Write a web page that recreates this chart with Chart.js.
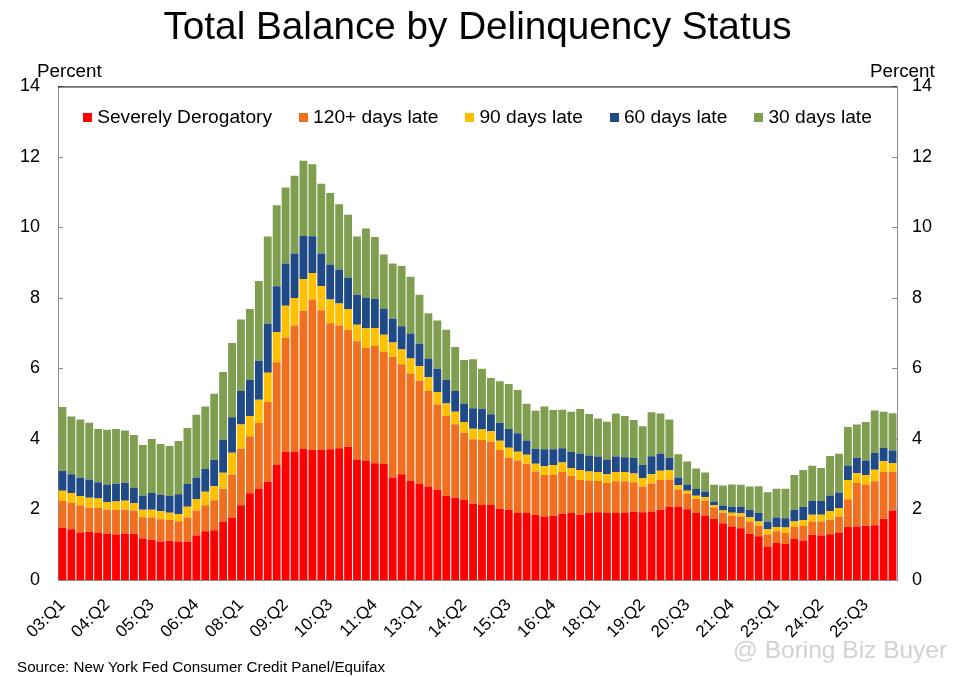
<!DOCTYPE html>
<html>
<head>
<meta charset="utf-8">
<title>Total Balance by Delinquency Status</title>
<script src="https://cdn.jsdelivr.net/npm/chart.js@4/dist/chart.umd.min.js"></script>
<style>
  html, body { margin: 0; padding: 0; background: #fff; }
  #wrap { position: relative; width: 955px; height: 677px; font-family: "Liberation Sans", Arial, sans-serif; color: #000; }
  #chart { position: absolute; left: 0; top: 0; }
  .pct { position: absolute; top: 60px; font-size: 18.8px; line-height: 21px; }
  #legend { position: absolute; left: 58px; width: 839px; top: 106px; display: flex; justify-content: center; gap: 27px; font-size: 19.2px; line-height: 22px; }
  #legend .item { display: flex; align-items: center; gap: 5px; white-space: nowrap; }
  #legend .sw { width: 9px; height: 9px; display: inline-block; }
  #source { position: absolute; left: 17px; top: 658px; font-size: 15.2px; line-height: 17px; }
  #mark { position: absolute; left: 733px; top: 636px; font-size: 24.5px; line-height: 28px; color: #d2d2d2; }
</style>
</head>
<body>
<div id="wrap">
  <canvas id="chart" width="955" height="677"></canvas>
  <div class="pct" style="left:37px">Percent</div>
  <div class="pct" style="left:870px">Percent</div>
  <div id="legend"></div>
  <div id="source">Source: New York Fed Consumer Credit Panel/Equifax</div>
  <div id="mark">@ Boring Biz Buyer</div>
</div>
<script>
// quarters, 03:Q1 onward
const quarters = [
  '03:Q1','03:Q2','03:Q3','03:Q4','04:Q1','04:Q2','04:Q3','04:Q4','05:Q1','05:Q2','05:Q3','05:Q4',
  '06:Q1','06:Q2','06:Q3','06:Q4','07:Q1','07:Q2','07:Q3','07:Q4','08:Q1','08:Q2','08:Q3','08:Q4',
  '09:Q1','09:Q2','09:Q3','09:Q4','10:Q1','10:Q2','10:Q3','10:Q4','11:Q1','11:Q2','11:Q3','11:Q4',
  '12:Q1','12:Q2','12:Q3','12:Q4','13:Q1','13:Q2','13:Q3','13:Q4','14:Q1','14:Q2','14:Q3','14:Q4',
  '15:Q1','15:Q2','15:Q3','15:Q4','16:Q1','16:Q2','16:Q3','16:Q4','17:Q1','17:Q2','17:Q3','17:Q4',
  '18:Q1','18:Q2','18:Q3','18:Q4','19:Q1','19:Q2','19:Q3','19:Q4','20:Q1','20:Q2','20:Q3','20:Q4',
  '21:Q1','21:Q2','21:Q3','21:Q4','22:Q1','22:Q2','22:Q3','22:Q4','23:Q1','23:Q2','23:Q3','23:Q4',
  '24:Q1','24:Q2','24:Q3','24:Q4','25:Q1','25:Q2','25:Q3','25:Q4','26:Q1','26:Q2'
];

// percent of balance, by status
const severe = [
  1.49,1.44,1.35,1.37,1.35,1.32,1.29,1.32,1.31,1.18, 1.14,1.09,1.11,1.09,1.09,1.26,1.38,1.41,1.66,1.77,
  2.12,2.46,2.58,2.79,3.26,3.64,3.64,3.72,3.69,3.69, 3.71,3.74,3.78,3.42,3.39,3.31,3.29,2.91,3.00,2.81,
  2.74,2.65,2.56,2.39,2.33,2.27,2.16,2.13,2.13,2.02, 1.99,1.90,1.90,1.85,1.80,1.82,1.88,1.90,1.85,1.90,
  1.92,1.90,1.90,1.90,1.94,1.92,1.94,1.99,2.08,2.08, 2.01,1.90,1.83,1.73,1.61,1.52,1.47,1.31,1.24,0.95,
  1.05,1.02,1.16,1.12,1.28,1.26,1.30,1.35,1.50,1.52, 1.54,1.55,1.74,1.97
];
const late120 = [
  0.76,0.75,0.77,0.69,0.71,0.67,0.70,0.67,0.66,0.60, 0.63,0.63,0.59,0.58,0.68,0.71,0.74,0.85,0.93,1.22,
  1.60,1.62,1.87,2.26,2.92,3.23,3.58,3.92,4.27,3.96, 3.57,3.48,3.32,3.35,3.20,3.33,3.18,3.42,3.12,3.05,
  2.91,2.72,2.42,2.26,2.09,1.91,1.83,1.84,1.79,1.67, 1.48,1.49,1.40,1.23,1.18,1.16,1.18,1.06,0.99,0.92,
  0.89,0.85,0.90,0.90,0.83,0.73,0.80,0.85,0.77,0.49, 0.43,0.40,0.42,0.33,0.30,0.30,0.33,0.35,0.30,0.33,
  0.33,0.31,0.34,0.42,0.38,0.40,0.41,0.45,0.79,1.23, 1.16,1.25,1.32,1.10
];
const late90 = [
  0.28,0.28,0.26,0.27,0.25,0.22,0.24,0.26,0.21,0.21, 0.22,0.23,0.21,0.20,0.31,0.33,0.38,0.40,0.45,0.62,
  0.69,0.57,0.66,0.83,0.85,0.91,0.78,0.90,0.75,0.69, 0.68,0.62,0.58,0.47,0.55,0.51,0.49,0.41,0.42,0.42,
  0.41,0.38,0.35,0.36,0.35,0.30,0.30,0.30,0.30,0.26, 0.28,0.25,0.25,0.22,0.25,0.28,0.27,0.22,0.28,0.26,
  0.25,0.25,0.26,0.26,0.25,0.24,0.26,0.26,0.26,0.12, 0.09,0.09,0.10,0.06,0.06,0.09,0.09,0.12,0.12,0.16,
  0.12,0.16,0.16,0.16,0.19,0.19,0.25,0.24,0.55,0.28, 0.28,0.33,0.31,0.24
];
const late60 = [
  0.57,0.53,0.52,0.52,0.46,0.50,0.50,0.51,0.43,0.41, 0.48,0.47,0.47,0.56,0.64,0.61,0.65,0.75,0.94,1.01,
  0.95,1.02,1.11,1.39,1.30,1.20,1.26,1.22,1.04,0.92, 0.99,0.97,0.90,0.85,0.87,0.83,0.74,0.67,0.66,0.71,
  0.64,0.53,0.66,0.66,0.59,0.53,0.58,0.59,0.48,0.51, 0.53,0.52,0.41,0.42,0.48,0.45,0.41,0.45,0.47,0.45,
  0.44,0.42,0.44,0.42,0.44,0.38,0.51,0.49,0.36,0.22, 0.18,0.19,0.16,0.11,0.14,0.17,0.19,0.21,0.24,0.22,
  0.27,0.26,0.33,0.38,0.40,0.40,0.44,0.44,0.41,0.44, 0.41,0.47,0.38,0.36
];
const late30 = [
  1.81,1.64,1.65,1.61,1.51,1.55,1.55,1.48,1.50,1.43, 1.53,1.44,1.42,1.51,1.59,1.78,1.77,1.87,1.92,2.10,
  2.03,2.02,2.26,2.47,2.30,2.15,2.21,2.13,2.04,1.98, 2.03,1.85,1.78,1.65,1.96,1.75,1.53,1.57,1.71,1.61,
  1.39,1.29,1.37,1.43,1.25,1.23,1.39,1.13,1.03,1.18, 1.28,1.23,1.04,1.08,1.21,1.11,1.09,1.14,1.26,1.18,
  1.08,1.07,1.22,1.17,1.08,1.09,1.25,1.13,1.08,0.66, 0.65,0.58,0.54,0.47,0.57,0.63,0.62,0.66,0.76,0.83,
  0.82,0.84,0.99,1.04,0.99,0.93,1.12,1.10,1.09,0.94, 1.09,1.21,1.02,1.06
];

const seriesNames = ['Severely Derogatory', '120+ days late', '90 days late', '60 days late', '30 days late'];
const seriesColors = ['#ff0000', '#f07020', '#ffc000', '#1f4a86', '#7f9e50'];
const yTicks = [0, 2, 4, 6, 8, 10, 12, 14];

Chart.defaults.font.family = '"Liberation Sans", Arial, sans-serif';
Chart.defaults.color = '#000';

const AXIS_GREY = '#8c8c8c';

// inner tick marks + black top edge of the plot box
const boxTicks = {
  id: 'boxTicks',
  afterDraw(chart) {
    const { ctx, chartArea: a } = chart;
    const y = chart.scales.y;
    ctx.save();
    ctx.strokeStyle = AXIS_GREY;
    ctx.lineWidth = 1;
    yTicks.forEach((v) => {
      const py = Math.round(y.getPixelForValue(v)) + 0.5;
      ctx.beginPath();
      ctx.moveTo(a.left, py); ctx.lineTo(a.left + 5, py);
      ctx.moveTo(a.right - 5, py); ctx.lineTo(a.right, py);
      ctx.stroke();
    });
    ctx.strokeStyle = '#000';
    ctx.beginPath();
    ctx.moveTo(a.left, a.top + 0.5); ctx.lineTo(a.right, a.top + 0.5);
    ctx.stroke();
    ctx.restore();
  },
};

const yAxis = (pos, pad) => ({
  type: 'linear',
  position: pos,
  min: 0,
  max: 14,
  stacked: pos === 'left',
  afterBuildTicks: (s) => { s.ticks = yTicks.map((v) => ({ value: v })); },
  afterFit: (s) => { s.width = 58; },
  grid: { display: false, drawTicks: false },
  border: { display: true, color: AXIS_GREY },
  ticks: { font: { size: 18 }, padding: pad, color: '#000' },
});

const chart = new Chart(document.getElementById('chart'), {
  type: 'bar',
  data: {
    labels: quarters,
    datasets: [severe, late120, late90, late60, late30].map((d, i) => ({
      label: seriesNames[i],
      data: d,
      backgroundColor: seriesColors[i],
      borderWidth: 0,
      barPercentage: 0.88,
      categoryPercentage: 1,
      yAxisID: 'y',
    })),
  },
  options: {
    responsive: false,
    animation: false,
    layout: { padding: 0 },
    plugins: {
      title: {
        display: true,
        text: 'Total Balance by Delinquency Status',
        font: { size: 38.7, weight: 'normal' },
        color: '#000',
        padding: { top: 5, bottom: 35 },
      },
      legend: { display: false },
      tooltip: { enabled: false },
    },
    scales: {
      x: {
        stacked: true,
        grid: { display: false, drawTicks: false },
        border: { display: true, color: AXIS_GREY },
        afterFit: (s) => { s.height = 97; },
        ticks: {
          autoSkip: false,
          minRotation: 45,
          maxRotation: 45,
          padding: 15,
          font: { size: 17 },
          color: '#000',
          callback: (v, i) => (i % 5 === 0 ? quarters[i] : ''),
        },
      },
      y: yAxis('left', 18),
      y2: yAxis('right', 15),
    },
  },
  plugins: [boxTicks],
});

// legend sits inside the plot box, one row
document.getElementById('legend').innerHTML = chart.data.datasets
  .map((ds) => `<span class="item"><span class="sw" style="background:${ds.backgroundColor}"></span>${ds.label}</span>`)
  .join('');
</script>
</body>
</html>
